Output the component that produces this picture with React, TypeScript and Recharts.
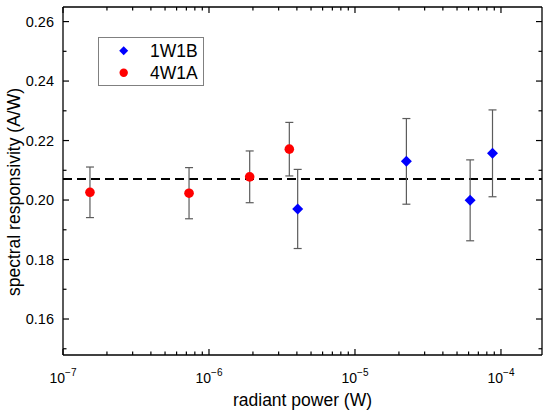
import React from 'react';
import {
  ScatterChart,
  Scatter,
  XAxis,
  YAxis,
  ErrorBar,
  ReferenceLine
} from 'recharts';

// 1W1B (blue diamonds)
const name1 = '1W1B';
const power1 = [4.05e-6, 2.25e-5, 6.15e-5, 8.75e-5];
const resp1 = [0.197, 0.213, 0.1999, 0.2157];
const err1 = [0.0133, 0.0144, 0.0136, 0.0146];

// 4W1A (red circles)
const name2 = '4W1A';
const power2 = [1.53e-7, 7.3e-7, 1.9e-6, 3.55e-6];
const resp2 = [0.2026, 0.2023, 0.2078, 0.2171];
const err2 = [0.0085, 0.0086, 0.0087, 0.009];

const meanResp = 0.2071;

const xDomain = [1e-7, 1.91e-4];
const yDomain = [0.1479, 0.2649];
const xDecades = [1e-7, 1e-6, 1e-5, 1e-4];
const xMultipliers = [1, 2, 3, 4, 5, 6, 7, 8, 9];
const yTicks = [0.15, 0.16, 0.17, 0.18, 0.19, 0.2, 0.21, 0.22, 0.23, 0.24, 0.25, 0.26];

const xTicks = xDecades
  .flatMap(d => xMultipliers.map(m => d * m))
  .filter(v => v >= xDomain[0] && v <= xDomain[1]);

const data1 = power1.map((p, i) => ({ x: p, y: resp1[i], err: err1[i] }));
const data2 = power2.map((p, i) => ({ x: p, y: resp2[i], err: err2[i] }));

const FONT = '"Liberation Sans", Arial, sans-serif';
const BLUE = '#0000ff';
const RED = '#ff0000';
const BAR = '#5c5c5c';
const MAJOR = 6;
const MINOR = 3.5;

const isXMajor = (v: number) => {
  const l = Math.log10(v);
  return Math.abs(l - Math.round(l)) < 1e-6;
};
const isYMajor = (v: number) => Math.round(v * 100) % 2 === 0;

const BottomTick = (props: any) => {
  const { x, y, payload } = props;
  const major = isXMajor(payload.value);
  const exp = Math.round(Math.log10(payload.value));
  return (
    <g>
      <line x1={x} x2={x} y1={y} y2={y - (major ? MAJOR : MINOR)} stroke="#000" strokeWidth={1.2} />
      {major && (
        <text x={x} y={y + 28} textAnchor="middle" fontFamily={FONT} fontSize={14} fill="#000">
          <tspan>10</tspan>
          <tspan dy={-7} fontSize={10}>{'\u2212' + Math.abs(exp)}</tspan>
        </text>
      )}
    </g>
  );
};

const TopTick = (props: any) => {
  const { x, y, payload } = props;
  const major = isXMajor(payload.value);
  return <line x1={x} x2={x} y1={y} y2={y + (major ? MAJOR : MINOR)} stroke="#000" strokeWidth={1.2} />;
};

const LeftTick = (props: any) => {
  const { x, y, payload } = props;
  const major = isYMajor(payload.value);
  return (
    <g>
      <line x1={x} x2={x + (major ? MAJOR : MINOR)} y1={y} y2={y} stroke="#000" strokeWidth={1.2} />
      {major && (
        <text x={x - 9} y={y + 5} textAnchor="end" fontFamily={FONT} fontSize={14.5} fill="#000">
          {payload.value.toFixed(2)}
        </text>
      )}
    </g>
  );
};

const RightTick = (props: any) => {
  const { x, y, payload } = props;
  const major = isYMajor(payload.value);
  return <line x1={x} x2={x - (major ? MAJOR : MINOR)} y1={y} y2={y} stroke="#000" strokeWidth={1.2} />;
};

const Diamond = (props: any) => {
  const { cx, cy } = props;
  const r = 5.5;
  return <path d={`M${cx},${cy - r}L${cx + r},${cy}L${cx},${cy + r}L${cx - r},${cy}Z`} fill={BLUE} />;
};

const Dot = (props: any) => {
  const { cx, cy } = props;
  return <circle cx={cx} cy={cy} r={4.8} fill={RED} />;
};

const axisLine = { stroke: '#000', strokeWidth: 1.3 };

const App: React.FC = () => {
  return (
    <div style={{ position: 'absolute', left: 0, top: 0, width: 550, height: 418 }}>
      <ScatterChart width={550} height={418} margin={{ top: 0, right: 0, bottom: 0, left: 0 }}>
        <XAxis
          xAxisId="b"
          type="number"
          dataKey="x"
          scale="log"
          domain={xDomain}
          allowDataOverflow
          ticks={xTicks}
          interval={0}
          height={63}
          tickSize={0}
          tickMargin={0}
          tickLine={false}
          axisLine={axisLine}
          tick={<BottomTick />}
        />
        <XAxis
          xAxisId="t"
          orientation="top"
          type="number"
          dataKey="x"
          scale="log"
          domain={xDomain}
          allowDataOverflow
          ticks={xTicks}
          interval={0}
          height={7}
          tickSize={0}
          tickMargin={0}
          tickLine={false}
          axisLine={axisLine}
          tick={<TopTick />}
        />
        <YAxis
          yAxisId="l"
          type="number"
          dataKey="y"
          domain={yDomain}
          allowDataOverflow
          ticks={yTicks}
          interval={0}
          width={63}
          tickSize={0}
          tickMargin={0}
          tickLine={false}
          axisLine={axisLine}
          tick={<LeftTick />}
        />
        <YAxis
          yAxisId="r"
          orientation="right"
          type="number"
          dataKey="y"
          domain={yDomain}
          allowDataOverflow
          ticks={yTicks}
          interval={0}
          width={8}
          tickSize={0}
          tickMargin={0}
          tickLine={false}
          axisLine={axisLine}
          tick={<RightTick />}
        />
        <ReferenceLine
          xAxisId="b"
          yAxisId="l"
          y={meanResp}
          stroke="#000"
          strokeWidth={2}
          strokeDasharray="9 5"
        />
        <Scatter
          name={name2}
          data={data2}
          xAxisId="b"
          yAxisId="l"
          shape={<Dot />}
          isAnimationActive={false}
        >
          <ErrorBar dataKey="err" direction="y" width={4} stroke={BAR} strokeWidth={1.2} />
        </Scatter>
        <Scatter
          name={name1}
          data={data1}
          xAxisId="b"
          yAxisId="l"
          shape={<Diamond />}
          isAnimationActive={false}
        >
          <ErrorBar dataKey="err" direction="y" width={4} stroke={BAR} strokeWidth={1.2} />
        </Scatter>
      </ScatterChart>
      <svg
        width={550}
        height={418}
        style={{ position: 'absolute', left: 0, top: 0, pointerEvents: 'none' }}
      >
        <rect x={98.5} y={37.5} width={105} height={48} fill="#fff" stroke="#808080" strokeWidth={1} />
        <path d="M123.7,46.2L128.2,50.7L123.7,55.2L119.2,50.7Z" fill={BLUE} />
        <text x={150} y={57} fontFamily={FONT} fontSize={17.5} fill="#000">{name1}</text>
        <circle cx={123.7} cy={72.7} r={4.2} fill={RED} />
        <text x={150} y={79} fontFamily={FONT} fontSize={17.5} fill="#000">{name2}</text>
        <text x={302.5} y={406} textAnchor="middle" fontFamily={FONT} fontSize={17.5} fill="#000">
          radiant power (W)
        </text>
        <text
          x={20}
          y={192}
          transform="rotate(-90 20 192)"
          textAnchor="middle"
          fontFamily={FONT}
          fontSize={17.5}
          fill="#000"
        >
          spectral responsivity (A/W)
        </text>
      </svg>
    </div>
  );
};

export default App;
